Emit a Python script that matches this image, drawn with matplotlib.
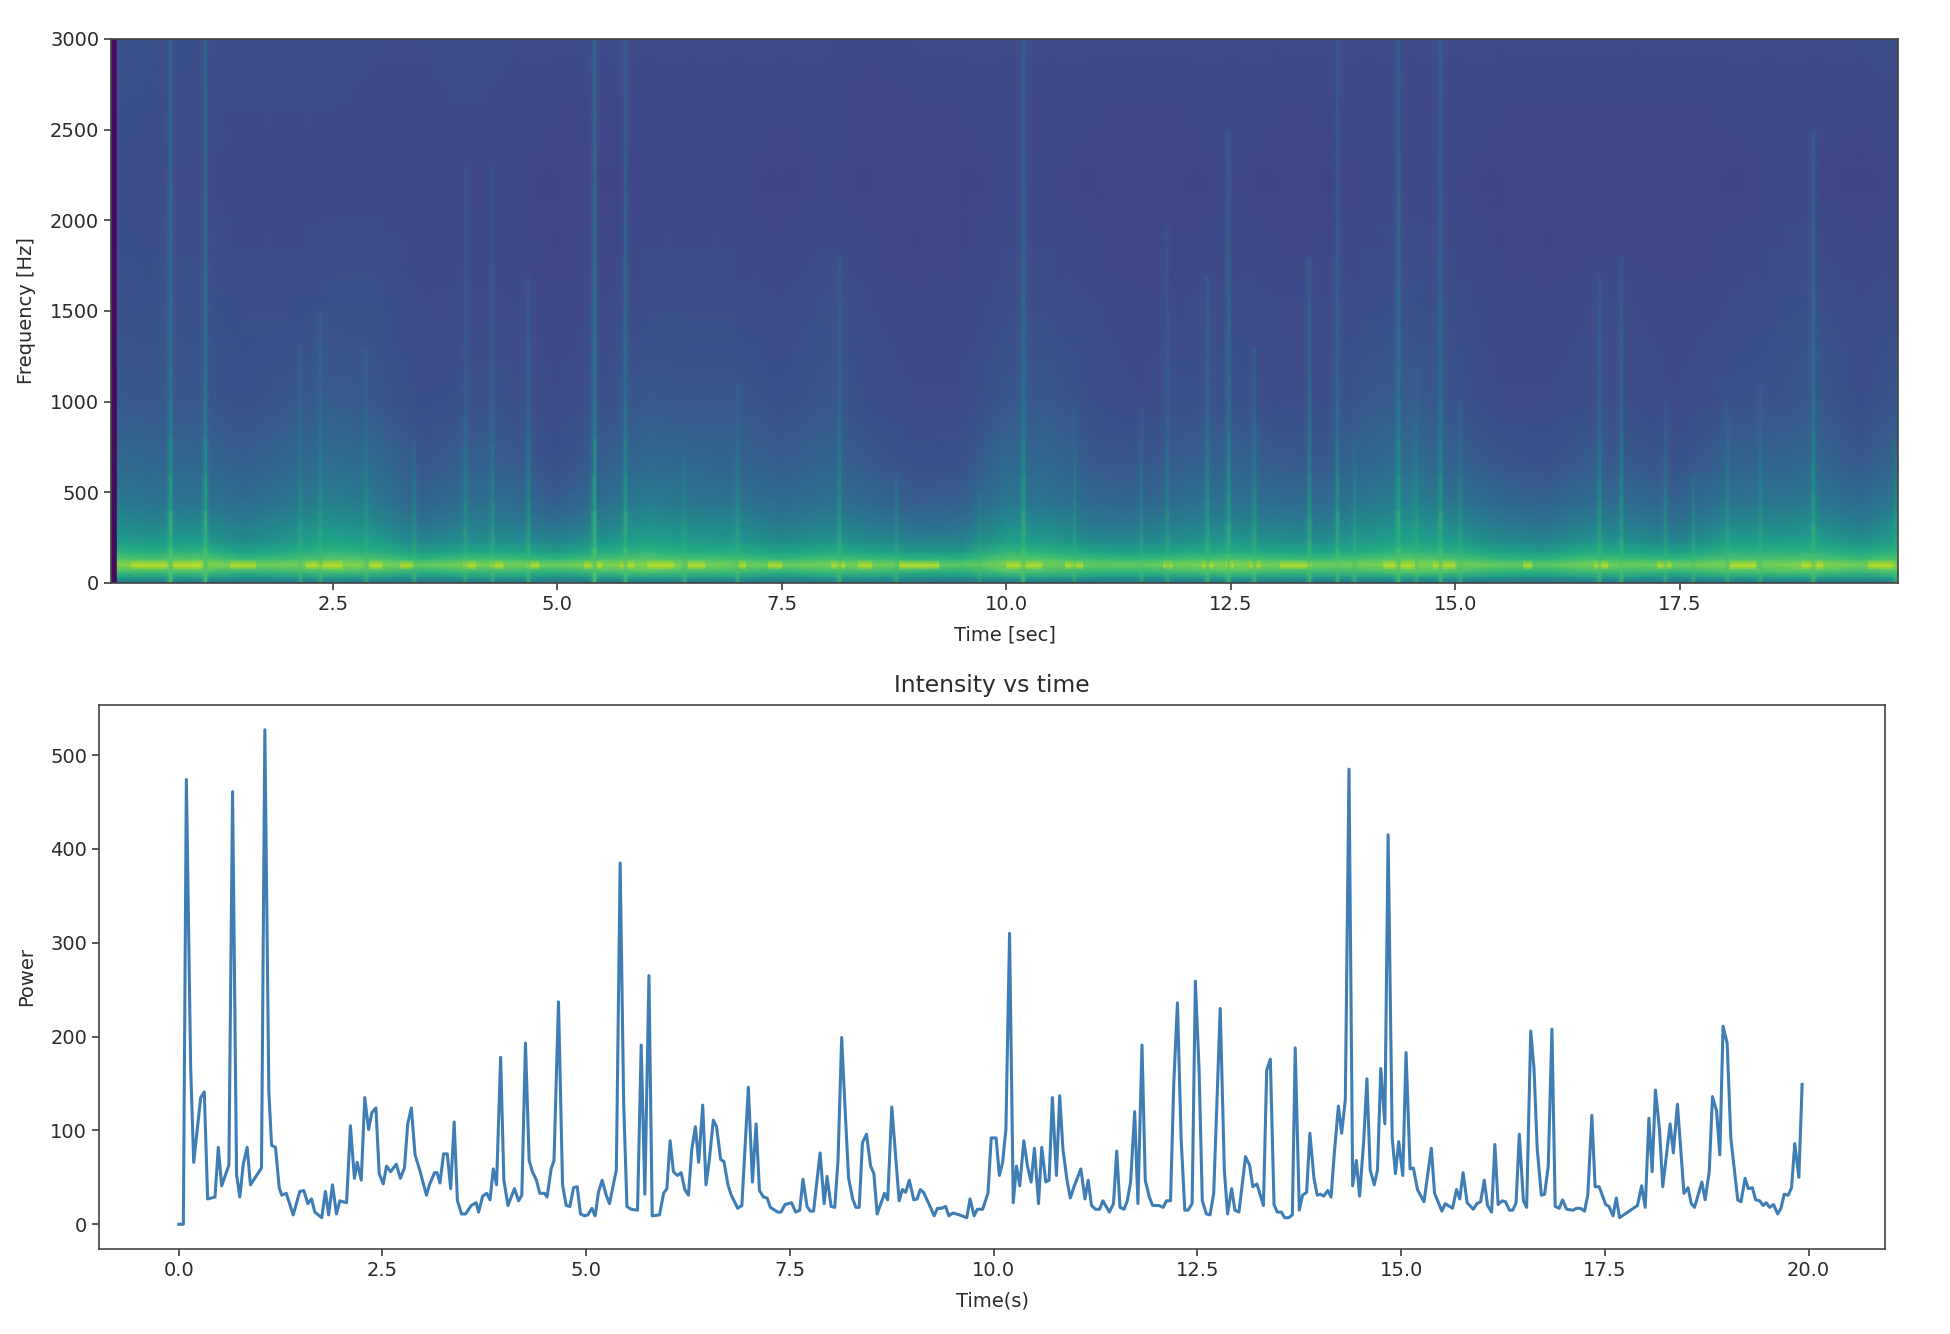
import matplotlib
matplotlib.use('Agg')
import matplotlib.pyplot as plt
import numpy as np

# intensity trace
times = [0, .057, .094, .147, .184, .27, .314, .355, .445, .486, .527, .616, .661, .71, .75, .792, .84, .88, 1.016, 1.057,
    1.106, 1.14, 1.188, 1.233, 1.265, 1.32, 1.405, 1.486, 1.535, 1.585, 1.63, 1.67, 1.755, 1.80, 1.84, 1.887, 1.936, 1.977, 2.06, 2.107,
    2.156, 2.19, 2.24, 2.283, 2.33, 2.37, 2.42, 2.46, 2.51, 2.55, 2.60, 2.67, 2.72, 2.77, 2.81, 2.855, 2.90, 2.957, 3.04, 3.08,
    3.14, 3.17, 3.206, 3.25, 3.296, 3.337, 3.38, 3.42, 3.47, 3.52, 3.59, 3.65, 3.68, 3.73, 3.78, 3.82, 3.86, 3.90, 3.95, 3.99,
    4.04, 4.12, 4.17, 4.21, 4.255, 4.30, 4.34, 4.39, 4.43, 4.49, 4.52, 4.57, 4.605, 4.66, 4.71, 4.755, 4.80, 4.845, 4.89, 4.93,
    4.98, 5.02, 5.07, 5.11, 5.15, 5.196, 5.245, 5.286, 5.37, 5.417, 5.46, 5.50, 5.55, 5.63, 5.675, 5.72, 5.77, 5.81, 5.90, 5.95,
    5.99, 6.03, 6.07, 6.12, 6.165, 6.21, 6.255, 6.296, 6.34, 6.38, 6.43, 6.47, 6.51, 6.56, 6.60, 6.65, 6.69, 6.74, 6.78, 6.86,
    6.91, 6.99, 7.04, 7.085, 7.126, 7.175, 7.22, 7.26, 7.35, 7.39, 7.44, 7.52, 7.57, 7.62, 7.66, 7.71, 7.75, 7.79, 7.87, 7.92,
    7.955, 8.005, 8.05, 8.09, 8.135, 8.18, 8.22, 8.27, 8.31, 8.35, 8.39, 8.44, 8.49, 8.53, 8.57, 8.62, 8.66, 8.70, 8.75, 8.79,
    8.84, 8.88, 8.92, 8.965, 9.02, 9.06, 9.10, 9.14, 9.23, 9.27, 9.31, 9.36, 9.41, 9.45, 9.50, 9.58, 9.67, 9.71, 9.76, 9.80,
    9.865, 9.93, 9.97, 10.03, 10.07, 10.11, 10.15, 10.195, 10.24, 10.28, 10.32, 10.37, 10.415, 10.46, 10.50, 10.55, 10.59, 10.64, 10.68, 10.72,
    10.77, 10.81, 10.85, 10.90, 10.94, 10.99, 11.07, 11.12, 11.16, 11.20, 11.25, 11.30, 11.34, 11.42, 11.47, 11.51, 11.55, 11.60, 11.64, 11.68,
    11.73, 11.77, 11.82, 11.86, 11.91, 11.95, 12.03, 12.08, 12.12, 12.17, 12.21, 12.255, 12.30, 12.345, 12.385, 12.435, 12.475, 12.52, 12.56, 12.61,
    12.655, 12.70, 12.78, 12.83, 12.87, 12.92, 12.96, 13.01, 13.09, 13.14, 13.18, 13.23, 13.31, 13.35, 13.395, 13.44, 13.48, 13.53, 13.57, 13.62,
    13.665, 13.70, 13.75, 13.79, 13.84, 13.88, 13.93, 13.97, 14.01, 14.05, 14.10, 14.14, 14.18, 14.23, 14.27, 14.315, 14.36, 14.405, 14.45, 14.49,
    14.54, 14.58, 14.62, 14.67, 14.71, 14.75, 14.80, 14.84, 14.89, 14.93, 14.97, 15.02, 15.06, 15.11, 15.15, 15.20, 15.28, 15.37, 15.41, 15.50,
    15.54, 15.63, 15.68, 15.72, 15.76, 15.81, 15.885, 15.93, 15.975, 16.02, 16.06, 16.11, 16.15, 16.19, 16.24, 16.28, 16.33, 16.37, 16.41, 16.45,
    16.50, 16.54, 16.59, 16.63, 16.67, 16.72, 16.76, 16.805, 16.85, 16.89, 16.94, 16.98, 17.03, 17.11, 17.15, 17.20, 17.25, 17.29, 17.34, 17.38,
    17.43, 17.51, 17.55, 17.60, 17.64, 17.68, 17.90, 17.95, 17.995, 18.04, 18.08, 18.12, 18.17, 18.21, 18.30, 18.34, 18.39, 18.47, 18.52, 18.56,
    18.60, 18.69, 18.73, 18.78, 18.82, 18.87, 18.91, 18.95, 19.00, 19.045, 19.13, 19.17, 19.22, 19.26, 19.31, 19.35, 19.40, 19.44, 19.48, 19.52,
    19.57, 19.62, 19.66, 19.70, 19.75, 19.79, 19.83, 19.88, 19.92]
power = [0, 0, 474, 166, 66, 135, 141, 27, 29, 82, 41, 63, 461, 53, 29, 64, 82, 42, 60, 527,
    141, 84, 82, 39, 31, 33, 10, 35, 36, 22, 27, 13, 7, 35, 10, 42, 11, 25, 23, 105,
    49, 66, 47, 135, 101, 119, 124, 54, 43, 62, 56, 64, 49, 60, 107, 124, 74, 58, 31, 43,
    55, 55, 44, 75, 75, 38, 109, 25, 11, 11, 20, 23, 13, 30, 33, 26, 59, 42, 178, 47,
    20, 38, 25, 31, 193, 68, 56, 47, 33, 33, 29, 59, 68, 237, 42, 20, 19, 39, 40, 11,
    9, 10, 17, 9, 34, 47, 31, 22, 58, 385, 129, 19, 16, 15, 191, 32, 265, 9, 10, 33,
    38, 89, 56, 52, 55, 37, 31, 80, 104, 66, 127, 42, 68, 111, 104, 69, 67, 42, 31, 17,
    20, 146, 45, 107, 36, 29, 28, 18, 13, 13, 21, 23, 13, 15, 48, 19, 14, 14, 76, 22,
    51, 19, 18, 68, 199, 117, 49, 27, 18, 18, 87, 96, 62, 54, 11, 23, 33, 26, 125, 80,
    25, 37, 34, 47, 26, 27, 37, 34, 17, 9, 17, 17, 19, 9, 12, 10, 7, 27, 9, 16,
    16, 33, 92, 92, 52, 66, 101, 310, 23, 62, 41, 89, 62, 45, 81, 22, 82, 45, 47, 135,
    52, 137, 80, 47, 28, 41, 59, 27, 47, 20, 16, 16, 25, 13, 22, 78, 18, 16, 25, 45,
    120, 22, 191, 47, 29, 20, 20, 18, 25, 25, 150, 236, 92, 15, 15, 22, 259, 166, 25, 11,
    10, 33, 230, 58, 11, 38, 15, 13, 72, 63, 40, 43, 20, 164, 176, 21, 13, 13, 7, 7,
    10, 188, 15, 31, 34, 97, 49, 31, 32, 30, 36, 29, 76, 126, 97, 133, 485, 41, 68, 30,
    88, 155, 58, 42, 58, 166, 107, 415, 92, 54, 88, 52, 183, 59, 60, 37, 24, 81, 33, 14,
    22, 17, 37, 27, 55, 23, 16, 22, 24, 47, 20, 13, 85, 21, 25, 24, 15, 15, 23, 96,
    25, 18, 206, 166, 80, 31, 32, 62, 208, 19, 17, 26, 16, 15, 17, 17, 14, 31, 116, 40,
    40, 21, 19, 9, 28, 7, 20, 41, 18, 113, 56, 143, 101, 40, 107, 76, 128, 33, 39, 22,
    18, 45, 26, 56, 136, 121, 74, 211, 193, 92, 26, 24, 49, 38, 39, 26, 25, 20, 23, 18,
    21, 11, 17, 32, 31, 39, 86, 50, 149]

# spectrogram read coarsely: colour level (percent of viridis) per frequency band, one value per time column
spec_times = [0.03, .5, 1, 1.5, 2, 2.5, 3, 3.5, 4, 4.5, 5, 5.5, 6, 6.5, 7, 7.5, 8, 8.5, 9, 9.5, 10, 10.5, 11, 11.5, 12, 12.5, 13, 13.5, 14, 14.5, 15, 15.5, 16, 16.5, 17, 17.5, 18, 18.5, 19, 19.5, 19.93]
spec_freqs = [0, 30, 60, 100, 130, 170, 230, 320, 450, 650, 1000, 1500, 2200, 3000]
band_0 = [38, 37, 38, 36, 37, 38, 37, 36, 37, 38, 36, 37, 38, 37, 37, 36, 37, 37, 36, 35, 38, 37, 36, 36, 37, 38, 37, 36, 37, 38, 37, 36, 35, 37, 36, 35, 37, 37, 38, 36, 38]
band_30 = [56, 55, 56, 52, 54, 56, 55, 50, 54, 55, 50, 55, 57, 56, 55, 51, 55, 54, 51, 50, 57, 56, 53, 52, 55, 57, 55, 53, 55, 57, 55, 52, 50, 55, 54, 51, 56, 56, 57, 54, 58]
band_60 = [69, 69, 70, 65, 67, 70, 69, 63, 67, 67, 63, 69, 71, 69, 68, 64, 68, 67, 64, 62, 71, 69, 66, 65, 69, 71, 68, 67, 69, 72, 70, 65, 63, 68, 67, 64, 70, 70, 71, 67, 72]
band_100 = [82, 81, 83, 78, 79, 82, 81, 76, 80, 79, 78, 81, 82, 80, 78, 77, 79, 79, 78, 74, 80, 78, 75, 76, 79, 82, 79, 78, 79, 82, 79, 76, 74, 79, 77, 78, 80, 79, 83, 78, 83]
band_130 = [74, 72, 75, 68, 70, 74, 72, 66, 71, 70, 66, 72, 74, 72, 71, 67, 71, 69, 66, 65, 74, 73, 68, 67, 71, 73, 70, 69, 72, 75, 72, 67, 65, 71, 69, 67, 72, 72, 73, 69, 74]
band_170 = [65, 62, 65, 57, 61, 66, 63, 55, 59, 59, 55, 61, 66, 62, 62, 57, 61, 58, 55, 54, 66, 64, 58, 56, 60, 62, 59, 58, 62, 66, 63, 57, 55, 61, 59, 56, 64, 64, 65, 60, 65]
band_230 = [56, 53, 55, 48, 53, 58, 55, 46, 50, 49, 46, 52, 57, 54, 53, 48, 52, 48, 45, 45, 56, 54, 48, 47, 51, 53, 50, 49, 54, 58, 54, 48, 46, 52, 49, 46, 55, 55, 56, 50, 56]
band_320 = [49, 46, 48, 42, 47, 52, 48, 38, 43, 42, 37, 44, 51, 48, 47, 41, 45, 41, 36, 37, 49, 47, 40, 40, 44, 46, 43, 42, 48, 52, 47, 41, 38, 44, 42, 38, 47, 48, 49, 42, 50]
band_450 = [41, 38, 39, 35, 39, 43, 40, 31, 36, 35, 29, 36, 42, 39, 38, 34, 37, 33, 29, 30, 40, 38, 33, 32, 36, 38, 35, 34, 40, 44, 38, 33, 31, 35, 34, 31, 38, 39, 40, 34, 41]
band_650 = [35, 33, 33, 30, 33, 36, 34, 27, 31, 29, 25, 30, 34, 33, 32, 29, 32, 28, 25, 26, 34, 33, 28, 27, 30, 32, 29, 28, 33, 36, 31, 27, 26, 29, 28, 26, 31, 32, 33, 28, 33]
band_1000 = [28, 27, 27, 25, 27, 29, 27, 24, 25, 25, 23, 25, 28, 27, 27, 25, 27, 24, 23, 23, 27, 28, 24, 23, 25, 26, 24, 24, 28, 29, 26, 23, 23, 24, 24, 23, 25, 26, 28, 24, 27]
band_1500 = [26, 25, 25, 24, 24, 25, 25, 23, 23, 23, 22, 23, 24, 24, 24, 23, 25, 23, 22, 22, 24, 24, 23, 22, 23, 24, 23, 23, 24, 25, 24, 22, 22, 23, 23, 22, 23, 24, 25, 23, 24]
band_2200 = [24, 23, 23, 22, 22, 22, 22, 22, 22, 22, 21, 21, 22, 22, 22, 21, 22, 21, 21, 21, 22, 22, 21, 21, 21, 22, 21, 21, 22, 22, 22, 21, 21, 21, 21, 21, 21, 22, 22, 21, 22]
band_3000 = [26, 25, 24, 24, 24, 24, 23, 23, 24, 23, 23, 23, 23, 23, 23, 23, 23, 22, 23, 23, 23, 23, 23, 23, 23, 23, 23, 23, 23, 23, 23, 23, 23, 23, 23, 23, 23, 23, 23, 23, 24]

# vertical streaks in the spectrogram: when, how high they stay visible, how strong (opacity)
streak_times = [.69, 1.08, 2.14, 2.36, 2.87, 3.40, 3.97, 4.27, 4.67, 5.41, 5.75, 6.41, 7.00, 8.14, 8.77, 9.70, 10.19, 10.75, 11.50, 11.79, 12.24, 12.47, 12.76, 13.37, 13.68, 13.87, 14.36, 14.56, 14.83, 15.05, 16.60, 16.85, 17.33, 17.65, 18.03, 18.39, 18.98, 19.90]
streak_tops = [3000, 3000, 1300, 1500, 1300, 800, 2300, 2300, 1700, 3000, 3000, 700, 1100, 1800, 600, 500, 3000, 1000, 1000, 2000, 1700, 2500, 1300, 1800, 3000, 800, 3000, 1200, 3000, 1000, 1700, 1800, 1000, 600, 1000, 1100, 2500, 800]
streak_alpha = [.75, .75, .35, .4, .35, .35, .3, .32, .45, .8, .55, .35, .4, .45, .35, .25, .6, .3, .3, .3, .5, .55, .45, .55, .45, .35, .65, .35, .55, .35, .45, .45, .35, .35, .35, .35, .55, .35]
# yellow patches along the 100 Hz line: start and end time
hot_start = [.25, 1.35, 2.2, 2.9, 3.25, 3.95, 4.25, 4.65, 5.3, 5.7, 6.0, 6.45, 7.0, 7.35, 8.05, 8.35, 8.8, 10.0, 10.65, 11.75, 12.18, 12.43, 12.7, 13.05, 14.2, 14.75, 15.75, 16.55, 17.25, 18.05, 18.85, 19.6]
hot_end = [1.05, 1.65, 2.6, 3.05, 3.4, 4.1, 4.4, 4.8, 5.5, 5.85, 6.3, 6.65, 7.1, 7.5, 8.2, 8.5, 9.25, 10.4, 10.85, 11.85, 12.3, 12.52, 12.82, 13.4, 14.55, 15.0, 15.85, 16.7, 17.4, 18.35, 19.1, 19.92]
x_ticks_top = [2.5, 5, 7.5, 10, 12.5, 15, 17.5]

W, H = 1950, 1334
fig = plt.figure(figsize=(W / 100, H / 100), dpi=100)
plt.rcParams['font.family'] = 'DejaVu Sans'
text_col = '#2b2b2b'

def place(l, t, r, b):
    return fig.add_axes([l / W, 1 - b / H, (r - l) / W, (b - t) / H])

ax1 = place(111, 39, 1898, 583)
spec = np.array([band_0, band_30, band_60, band_100, band_130, band_170, band_230, band_320,
                 band_450, band_650, band_1000, band_1500, band_2200, band_3000]) / 100
ax1.pcolormesh(spec_times, spec_freqs, spec, shading='gouraud', cmap='viridis', vmin=0, vmax=1)
cmap = plt.get_cmap('viridis')
ax1.hlines([100] * len(hot_start), hot_start, hot_end, color=cmap(.9), lw=6, alpha=.35)
ax1.hlines([100] * len(hot_start), hot_start, hot_end, color=cmap(.93), lw=2.5, alpha=.5)
# each streak fades upward: short stacked segments, greener and stronger near the bottom
fade = np.linspace(0, 1, 16)
for t, top, a in zip(streak_times, streak_tops, streak_alpha):
    cols = [cmap(.72 - .3 * min(f * top / 900, 1), alpha=a * (1 - .6 * f)) for f in fade[:-1]]
    ax1.vlines([t] * 15, top * fade[:-1], top * fade[1:], colors=cols, lw=2.4)
    soft = [(c[0], c[1], c[2], c[3] * .35) for c in cols]
    ax1.vlines([t] * 15, top * fade[:-1], top * fade[1:], colors=soft, lw=5.5)
# dead first bins of the spectrogram
ax1.vlines(.055, 0, 3000, color=cmap(.03), lw=5.5)
ax1.set_xlim(.03, 19.93)
ax1.set_ylim(0, 3000)
ax1.set_xticks(x_ticks_top)
ax1.set_xticklabels(['2.5', '5.0', '7.5', '10.0', '12.5', '15.0', '17.5'])
ax1.set_xlabel('Time [sec]', fontsize=14, color=text_col, labelpad=8.5)
ax1.set_ylabel('Frequency [Hz]', fontsize=14, color=text_col, labelpad=10)

ax2 = place(99, 705, 1885, 1249)
ax2.plot(times, power, color='#3f7db5', lw=2.2)
ax2.set_xlim(-.978, 20.937)
ax2.set_xticks(np.arange(0, 20.1, 2.5))
ax2.set_title('Intensity vs time', fontsize=16.8, color=text_col, pad=9.5)
ax2.set_xlabel('Time(s)', fontsize=14, color=text_col, labelpad=8.5)
ax2.set_ylabel('Power', fontsize=14, color=text_col, labelpad=10)

for ax in (ax1, ax2):
    ax.tick_params(labelsize=14, length=5, width=1.1, colors=text_col)
    for s in ax.spines.values():
        s.set_linewidth(1.2)
        s.set_color('#444444')

fig.savefig('out.png', dpi=100)
